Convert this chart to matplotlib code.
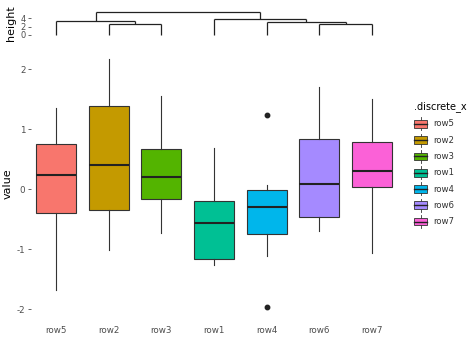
import matplotlib
matplotlib.use("Agg")
import matplotlib.pyplot as plt
from matplotlib.patches import Patch, Rectangle
from matplotlib.lines import Line2D
from matplotlib.legend_handler import HandlerBase

# categories in dendrogram order
rows = ["row5", "row2", "row3", "row1", "row4", "row6", "row7"]
colors = ["#F8766D", "#C49A00", "#53B400", "#00C094", "#00B6EB", "#A58AFF", "#FB61D7"]

# box statistics per row
whislo = [-1.68, -1.02, -0.73, -1.26, -1.12, -0.70, -1.07]
q1 = [-0.39, -0.35, -0.16, -1.17, -0.75, -0.47, 0.03]
med = [0.24, 0.40, 0.205, -0.56, -0.295, 0.083, 0.305]
q3 = [0.75, 1.38, 0.67, -0.19, -0.02, 0.84, 0.79]
whishi = [1.36, 2.17, 1.555, 0.68, 0.07, 1.71, 1.50]
fliers = [[], [], [], [], [1.23, -1.97], [], []]

# hierarchical clustering merges: (left node, right node, height)
# leaves are 0..6, merged nodes get ids 7, 8, ...
merge_left = [1, 0, 5, 4, 3, 8]
merge_right = [2, 7, 6, 9, 10, 11]
merge_height = [2.61, 3.35, 2.61, 3.02, 3.84, 5.63]

W, H = 474, 338
fig = plt.figure(figsize=(W / 100, H / 100), dpi=100)
fig.patch.set_facecolor("white")

x0, x1 = 0.525, 7.475
px_l, px_r = 31, 397

# main boxplot panel
ax = fig.add_axes([px_l / W, (H - 320) / H, (px_r - px_l) / W, (320 - 46.5) / H])
stats = []
for i, r in enumerate(rows):
    stats.append(dict(label=r, whislo=whislo[i], q1=q1[i], med=med[i],
                      q3=q3[i], whishi=whishi[i], fliers=fliers[i]))
bp = ax.bxp(stats, positions=range(1, 8), widths=0.76, patch_artist=True,
            showcaps=False,
            boxprops=dict(edgecolor="#333333", linewidth=0.8),
            medianprops=dict(color="#222222", linewidth=1.5),
            whiskerprops=dict(color="#333333", linewidth=0.8),
            flierprops=dict(marker="o", markersize=3.2, markerfacecolor="#222222",
                            markeredgecolor="#222222"))
for patch, c in zip(bp["boxes"], colors):
    patch.set_facecolor(c)

ax.set_xlim(x0, x1)
ax.set_ylim(-2.18, 2.38)
ax.set_yticks([-2, -1, 0, 1, 2])
ax.set_yticklabels(["-2", "-1", "0", "1", "2"])
for s in ax.spines.values():
    s.set_visible(False)
ax.tick_params(axis="x", length=0, pad=4, labelsize=6.3, colors="#4D4D4D")
ax.tick_params(axis="y", length=2.5, width=0.6, pad=1.5, labelsize=6.3,
               colors="#4D4D4D")
ax.set_ylabel("value", fontsize=8, color="black", labelpad=3)

# dendrogram panel
dax = fig.add_axes([px_l / W, (H - 37) / H, (px_r - px_l) / W, 28 / H])
pos = {i: float(i + 1) for i in range(len(rows))}
hgt = {i: 0.0 for i in range(len(rows))}
node = len(rows)
for a, b, h in zip(merge_left, merge_right, merge_height):
    xa, xb = pos[a], pos[b]
    dax.plot([xa, xa], [hgt[a], h], color="#222222", lw=0.9, solid_capstyle="butt")
    dax.plot([xb, xb], [hgt[b], h], color="#222222", lw=0.9, solid_capstyle="butt")
    dax.plot([xa, xb], [h, h], color="#222222", lw=0.9, solid_capstyle="butt")
    pos[node] = (xa + xb) / 2
    hgt[node] = h
    node += 1
dax.set_xlim(x0, x1)
dax.set_ylim(-0.56, 6.29)
dax.set_xticks([])
dax.set_yticks([0, 2, 4])
for s in dax.spines.values():
    s.set_visible(False)
dax.tick_params(axis="y", length=2.5, width=0.6, pad=1.5, labelsize=6,
                colors="#4D4D4D")
dax.set_ylabel("height", fontsize=8, color="black", labelpad=3)
dax.patch.set_alpha(0)


class BoxKey(HandlerBase):
    def create_artists(self, legend, orig_handle, xdescent, ydescent,
                       width, height, fontsize, trans):
        cx = width / 2 - xdescent
        bh = height * 0.5
        by = -ydescent + (height - bh) / 2
        box = Rectangle((-xdescent, by), width, bh,
                        facecolor=orig_handle.get_facecolor(),
                        edgecolor="#333333", lw=0.6, transform=trans)
        wl = Line2D([cx, cx], [-ydescent + height * 0.08, -ydescent + height * 0.92],
                    color="#333333", lw=0.6, transform=trans)
        ml = Line2D([-xdescent, -xdescent + width],
                    [-ydescent + height / 2] * 2, color="#222222", lw=1.0,
                    transform=trans)
        return [wl, box, ml]


handles = [Patch(facecolor=c, label=r) for c, r in zip(colors, rows)]
leg = fig.legend(handles=handles, loc="upper left",
                 bbox_to_anchor=(414 / W, 1 - 101 / H),
                 frameon=False, fontsize=6.2, title=".discrete_x",
                 title_fontsize=7.0, handler_map={Patch: BoxKey()},
                 handlelength=1.52, handleheight=2.38, labelspacing=0.1,
                 handletextpad=0.7, borderpad=0, borderaxespad=0,
                 alignment="left")
leg._legend_box.sep = 3
for t in leg.get_texts():
    t.set_color("#333333")

fig.savefig("out.png", dpi=100, facecolor="white")
